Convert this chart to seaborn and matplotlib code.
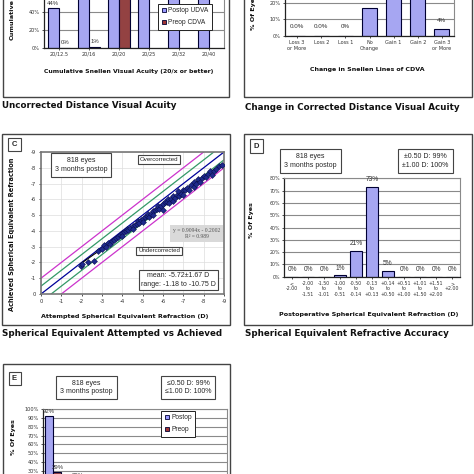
import numpy as np
import pandas as pd
import seaborn as sns
import matplotlib.pyplot as plt
from matplotlib.patches import Rectangle
from matplotlib.lines import Line2D

sns.set_theme(style='white')
plt.rcParams['font.family'] = ['DejaVu Sans']

# ---- data ----
# A: cumulative Snellen visual acuity
acuity = ['20/12.5', '20/16', '20/20', '20/25', '20/32', '20/40']
postop_udva = [44, 83, 97, 99, 100, 100]
preop_cdva = [0, 1, 68]   # only first three categories visible

# B: change in lines of CDVA
lines_cat = ['Loss 3\nor More', 'Loss 2', 'Loss 1', 'No\nChange', 'Gain 1', 'Gain 2', 'Gain 3\nor More']
lines_pct = [0, 0, 0, 17, 47, 32, 4]
lines_lbl = ['0.0%', '0.0%', '0%', '17%', '47%', '32%', '4%']

# C: attempted vs achieved SE
attempted = [-1.95, -2.0, -2.3, -2.6, -2.8, -3.0, -3.1, -3.2, -3.3, -3.4, -3.5, -3.6, -3.7, -3.8,
             -3.9, -4.0, -4.0, -4.1, -4.2, -4.25, -4.3, -4.4, -4.5, -4.5, -4.6, -4.7, -4.75, -4.8,
             -4.9, -5.0, -5.0, -5.1, -5.2, -5.25, -5.3, -5.4, -5.5, -5.5, -5.6, -5.7, -5.75, -5.8,
             -5.9, -6.0, -6.0, -6.1, -6.2, -6.25, -6.3, -6.4, -6.5, -6.5, -6.6, -6.7, -6.75, -6.8,
             -6.9, -7.0, -7.0, -7.1, -7.2, -7.3, -7.4, -7.5, -7.5, -7.6, -7.7, -7.8, -7.9, -8.0,
             -8.1, -8.2, -8.3, -8.4, -8.5, -8.6, -8.75, -8.9]
achieved = [-1.75, -1.9, -2.05, -2.1, -2.7, -2.85, -3.1, -3.0, -3.25, -3.2, -3.35, -3.4, -3.55, -3.6,
            -3.75, -3.85, -3.7, -3.95, -4.0, -4.15, -4.05, -4.2, -4.3, -4.1, -4.4, -4.45, -4.6, -4.5,
            -4.7, -4.75, -4.55, -4.85, -4.95, -5.1, -4.9, -5.1, -5.25, -5.0, -5.3, -5.4, -5.6, -5.4,
            -5.55, -5.7, -5.3, -5.8, -5.85, -6.05, -5.75, -6.0, -6.2, -5.9, -6.1, -6.3, -6.5, -6.2,
            -6.35, -6.6, -6.3, -6.6, -6.75, -6.6, -6.9, -7.1, -6.8, -7.0, -7.3, -7.1, -7.35, -7.5,
            -7.4, -7.6, -7.8, -7.55, -7.8, -7.95, -8.1, -8.2]
se_range = [0, -9]
se_offsets = [1, 0.5, 0, -0.5, -1]
se_colors = ['#cc33cc', '#339966', '#000099', '#339966', '#cc33cc']

# D: postoperative SE accuracy
se_bins = ['<\n-2.00', '-2.00\nto\n-1.51', '-1.50\nto\n-1.01', '-1.00\nto\n-0.51', '-0.50\nto\n-0.14',
           '-0.13\nto\n+0.13', '+0.14\nto\n+0.50', '+0.51\nto\n+1.00', '+1.01\nto\n+1.50',
           '+1.51\nto\n+2.00', '>\n+2.00']
se_pct = [0, 0, 0, 1, 21, 73, 5, 0, 0, 0, 0]

# E: postop vs preop (top of chart only visible)
e_bins = ['1', '2', '3', '4', '5', '6', '7', '8', '9']
e_postop = [92, 7, 1, 0, 0, 0, 0, 0, 0]
e_preop = [29, 20, 18, 12, 9, 5, 4, 2, 1]

BLUE = '#9999ff'
RED = '#a03535'
EDGE = '#000033'
W = 474.0

fig = plt.figure(figsize=(4.74, 4.74), dpi=100)
fig.patch.set_facecolor('white')


def rect(l, t, r, b):
    return [l / W, 1 - b / W, (r - l) / W, (b - t) / W]


def pt(x, y):
    return (x / W, 1 - y / W)


def frame(l, t, r, b):
    fig.add_artist(Rectangle((l / W, 1 - b / W), (r - l) / W, (b - t) / W,
                             transform=fig.transFigure, fill=False, ec='#444444', lw=1))


def bar_style(ax, ymax, step, tick_fs=3.6):
    ax.set_ylim(0, ymax)
    ticks = np.arange(0, ymax + 1, step)
    ax.set_yticks(ticks)
    ax.set_yticklabels([f'{t}%' for t in ticks], fontsize=tick_fs, color='#333333')
    ax.yaxis.grid(True, color='#8a8a8a', lw=0.8)
    ax.set_axisbelow(True)
    ax.set_xlabel('')
    ax.set_ylabel('')
    for s in ['top', 'right']:
        ax.spines[s].set_color('#8a8a8a')
        ax.spines[s].set_linewidth(0.8)
    for s in ['left', 'bottom']:
        ax.spines[s].set_color('#222222')
        ax.spines[s].set_linewidth(0.9)
    ax.tick_params(axis='both', length=1.5, width=0.6, pad=1.5, colors='#333333', bottom=True, left=True)
    ax.tick_params(axis='x', labelsize=tick_fs)


def boxed(x, y, s, fs=5.0, pad=2.0, **kw):
    fig.text(*pt(x, y), s, ha='center', va='center', fontsize=fs, family='Liberation Sans',
             linespacing=1.25,
             bbox=dict(boxstyle=f'square,pad={pad / fs:.2f}', fc='white', ec='#444444', lw=0.8), **kw)


def small_legend(ax, labels, anchor):
    ax.legend(handles=[Line2D([], [], ls='', marker='s', ms=2.6, mfc=c, mec=EDGE, mew=0.6)
                       for c in [BLUE, RED]],
              labels=labels, loc='lower left', bbox_to_anchor=anchor,
              frameon=True, fancybox=False, framealpha=1, edgecolor='#222222',
              labelspacing=0.75, handletextpad=0.2, borderpad=0.5, handlelength=0.8,
              prop={'family': 'Liberation Sans', 'size': 4.8})
    ax.get_legend().get_frame().set_linewidth(0.7)


CAP = 6.3

# ---------- frames ----------
frame(3, -200, 229, 97)
frame(244, -200, 472, 97)
frame(2, 134, 230, 325)
frame(244, 134, 472, 325)
frame(3, 364, 230, 700)

# ---------- A ----------
axA = fig.add_axes(rect(44, -41.5, 224, 47.5))
dfA = pd.concat([
    pd.DataFrame({'acuity': acuity, 'pct': postop_udva, 'grp': 'Postop UDVA'}),
    pd.DataFrame({'acuity': acuity[:len(preop_cdva)], 'pct': preop_cdva, 'grp': 'Preop CDVA'}),
])
sns.barplot(data=dfA, x='acuity', y='pct', hue='grp', order=acuity,
            hue_order=['Postop UDVA', 'Preop CDVA'], palette=[BLUE, RED],
            edgecolor=EDGE, linewidth=0.8, width=0.78, gap=0.08, legend=False, ax=axA)
bar_style(axA, 100, 20)
for cont, vals in zip(axA.containers, [postop_udva, preop_cdva]):
    axA.bar_label(cont, labels=[f'{v}%' for v in vals], fontsize=4.3, padding=2,
                  family='Liberation Sans', color='#333333')
small_legend(axA, ['Postop UDVA', 'Preop CDVA'], (0.617, 0.163))
fig.text(*pt(129, 71), 'Cumulative Snellen Visual Acuity (20/x or better)', ha='center',
         va='center', fontsize=4.4, fontweight='bold', color='#111111')
fig.text(*pt(12, 20), 'Cumulative', rotation=90, ha='center', va='center', fontsize=4.6,
         fontweight='bold', color='#111111')
fig.text(*pt(2, 106), 'Uncorrected Distance Visual Acuity', ha='left', va='center',
         fontsize=CAP, fontweight='bold', color='#111111')

# ---------- B ----------
axB = fig.add_axes(rect(285, -63.3, 454, 35.7))
dfB = pd.DataFrame({'cat': lines_cat, 'pct': lines_pct})
sns.barplot(data=dfB, x='cat', y='pct', color=BLUE, edgecolor=EDGE, linewidth=0.8,
            width=0.62, ax=axB)
bar_style(axB, 60, 10)
axB.bar_label(axB.containers[0], labels=lines_lbl, fontsize=4.5, padding=4.5,
              family='Liberation Sans', color='#333333')
fig.text(*pt(367, 70), 'Change in Snellen Lines of CDVA', ha='center', va='center',
         fontsize=4.5, fontweight='bold', color='#111111')
fig.text(*pt(253, 12), '% Of Eyes', rotation=90, ha='center', va='center', fontsize=4.6,
         fontweight='bold', color='#111111')
fig.text(*pt(245, 107), 'Change in Corrected Distance Visual Acuity', ha='left', va='center',
         fontsize=CAP, fontweight='bold', color='#111111')

# ---------- C ----------
axC = fig.add_axes(rect(41, 152, 224, 294))
for off, col in zip(se_offsets, se_colors):
    sns.lineplot(x=se_range, y=[v + off for v in se_range], color=col, lw=0.9, ax=axC)
sns.scatterplot(x=attempted, y=achieved, marker='D', s=9, color='#1f2a8c', edgecolor='#0a0f50',
                linewidth=0.4, ax=axC, zorder=3)
sns.regplot(x=attempted, y=achieved, scatter=False, ci=None, color='black',
            line_kws={'lw': 0.8}, ax=axC)
axC.set_xlim(0, -9)
axC.set_ylim(0, -9)
axC.set_xticks(range(0, -10, -1))
axC.set_yticks(range(0, -10, -1))
axC.set_xticklabels([str(v) for v in range(0, -10, -1)], fontsize=3.8)
axC.set_yticklabels([str(v) for v in range(0, -10, -1)], fontsize=3.8)
axC.grid(True, color='#dddddd', lw=0.5)
axC.set_xlabel('')
axC.set_ylabel('')
axC.tick_params(length=1.5, width=0.6, pad=2, colors='#333333', bottom=True, left=True)
for s in axC.spines.values():
    s.set_color('#777777')
    s.set_linewidth(1.2)
axC.text(-7.67, -3.83, 'y = 0.9094x - 0.2002\nR² = 0.989', ha='center', va='center',
         fontsize=4.1, family='Liberation Serif', color='#555555', linespacing=1.3,
         bbox=dict(boxstyle='square,pad=0.5', fc='#d9d9d9', ec='none'))
boxed(14.5, 144.5, 'C', fs=5.5, pad=2.5, fontweight='bold')
boxed(81, 165, '818 eyes\n3 months postop', fs=5.0, pad=3.0)
boxed(159, 159.5, 'Overcorrected', fs=4.4, pad=1.3)
boxed(159, 251, 'Undercorrected', fs=4.4, pad=1.3)
boxed(178.5, 280, 'mean: -5.72±1.67 D\nrange: -1.18 to -10.75 D', fs=5.0, pad=1.8)
fig.text(*pt(125, 316.5), 'Attempted Spherical Equivalent Refraction (D)', ha='center',
         va='center', fontsize=4.6, fontweight='bold', color='#111111')
fig.text(*pt(12, 234), 'Achieved Spherical Equivalent Refraction', rotation=90, ha='center',
         va='center', fontsize=4.8, fontweight='bold', color='#111111')
fig.text(*pt(2, 334), 'Spherical Equivalent Attempted vs Achieved', ha='left', va='center',
         fontsize=CAP, fontweight='bold', color='#111111')

# ---------- D ----------
axD = fig.add_axes(rect(284, 178.3, 460, 276.7))
dfD = pd.DataFrame({'bin': se_bins, 'pct': se_pct})
sns.barplot(data=dfD, x='bin', y='pct', color=BLUE, edgecolor=EDGE, linewidth=0.8,
            width=0.7, ax=axD)
bar_style(axD, 80, 10, tick_fs=3.4)
for lab in axD.get_xticklabels():
    lab.set_linespacing(1.15)
axD.bar_label(axD.containers[0], labels=[f'{v}%' for v in se_pct], fontsize=4.8, padding=2.5,
              family='Liberation Sans', color='#333333')
boxed(256.5, 146, 'D', fs=5.5, pad=2.5, fontweight='bold')
boxed(310.5, 161, '818 eyes\n3 months postop', fs=5.0, pad=3.0)
boxed(425.5, 161, '±0.50 D: 99%\n±1.00 D: 100%', fs=5.0, pad=3.0)
fig.text(*pt(369, 314.5), 'Postoperative Spherical Equivalent Refraction (D)', ha='center',
         va='center', fontsize=4.6, fontweight='bold', color='#111111')
fig.text(*pt(252, 220), '% Of Eyes', rotation=90, ha='center', va='center', fontsize=4.6,
         fontweight='bold', color='#111111')
fig.text(*pt(245, 333.5), 'Spherical Equivalent Refractive Accuracy', ha='left', va='center',
         fontsize=CAP, fontweight='bold', color='#111111')

# ---------- E ----------
axE = fig.add_axes(rect(43, 409, 227, 497.6))
dfE = pd.concat([
    pd.DataFrame({'bin': e_bins, 'pct': e_postop, 'grp': 'Postop'}),
    pd.DataFrame({'bin': e_bins, 'pct': e_preop, 'grp': 'Preop'}),
])
sns.barplot(data=dfE, x='bin', y='pct', hue='grp', order=e_bins, hue_order=['Postop', 'Preop'],
            palette=[BLUE, RED], edgecolor=EDGE, linewidth=0.8, width=0.82, gap=0.05,
            legend=False, ax=axE)
bar_style(axE, 100, 10, tick_fs=3.6)
for cont, vals in zip(axE.containers, [e_postop, e_preop]):
    axE.bar_label(cont, labels=[f'{v}%' for v in vals], fontsize=4.3, padding=1.5,
                  family='Liberation Sans', color='#333333')
small_legend(axE, ['Postop', 'Preop'], (0.625, 0.65))
boxed(14.5, 378.5, 'E', fs=5.5, pad=2.5, fontweight='bold')
boxed(86.5, 387.5, '818 eyes\n3 months postop', fs=5.0, pad=3.0)
boxed(188, 387.5, '≤0.50 D: 99%\n≤1.00 D: 100%', fs=5.0, pad=3.0)
fig.text(*pt(13, 437), '% Of Eyes', rotation=90, ha='center', va='center', fontsize=4.6,
         fontweight='bold', color='#111111')

fig.savefig('out.png', dpi=100, facecolor='white')
